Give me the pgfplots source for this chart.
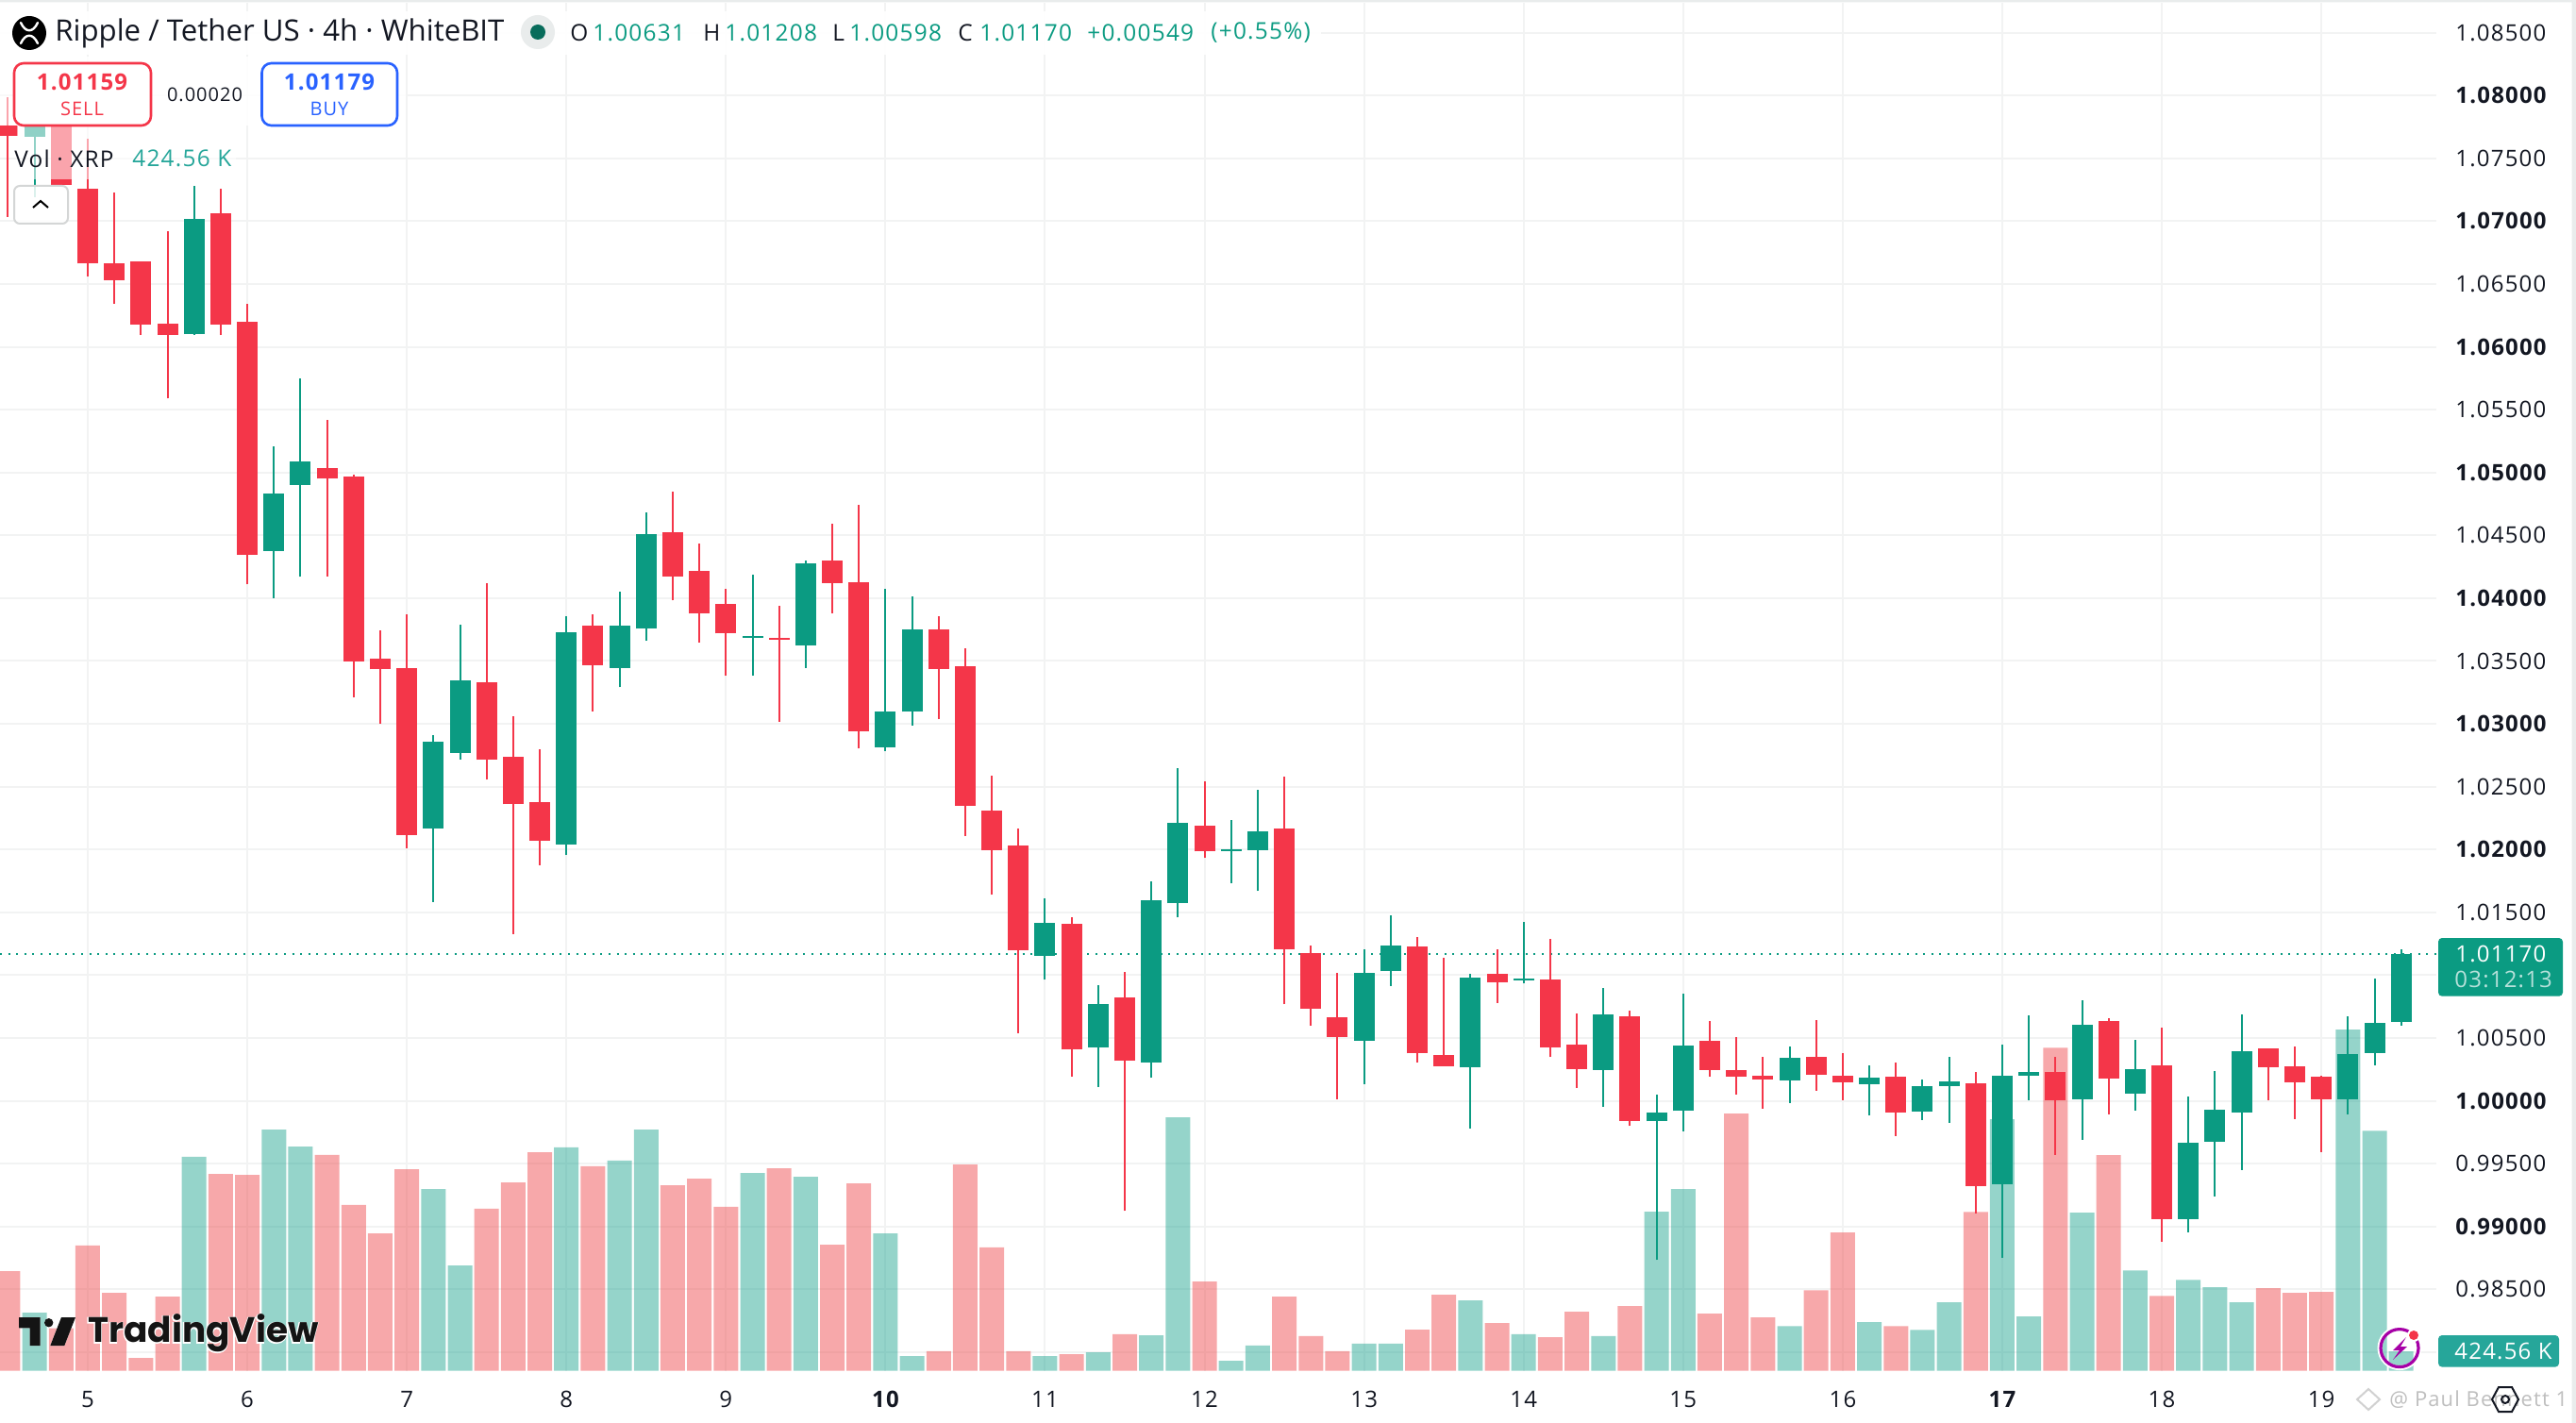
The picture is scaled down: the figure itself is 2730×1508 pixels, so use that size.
\documentclass[border=0pt]{standalone}
\usepackage{fontspec}
\usepackage{pgfplots}
\usepackage{pgfplotstable}
\pgfplotsset{compat=1.18}
\setmainfont{Open Sans}
\newfontfamily\tv[LetterSpace=5]{Open Sans}
\newfontfamily\logofont{Poppins}
\newfontfamily\logohalo[BoldFeatures={FakeBold=5}]{Poppins}
\definecolor{cred}{HTML}{F43649}
\definecolor{cgreen}{HTML}{0B9B82}
\definecolor{barred}{HTML}{EE3235}
\definecolor{bargreen}{HTML}{039983}
\definecolor{volgreen}{HTML}{26A69A}
\definecolor{gridc}{HTML}{F2F3F3}
\definecolor{cblue}{HTML}{2962FF}
\definecolor{labelc}{HTML}{131722}
\definecolor{edgec}{HTML}{E9ECEC}

% i open high low close
\pgfplotstableread{
i o h l c
-3 1.07762 1.07987 1.07034 1.07679
-1 1.07850 1.07900 1.07292 1.07292
0 1.07257 1.07658 1.06559 1.06662
1 1.06667 1.07227 1.06343 1.06533
2 1.06680 1.06680 1.06093 1.06179
3 1.06184 1.06921 1.05589 1.06093
5 1.07063 1.07257 1.06093 1.06179
6 1.06201 1.06343 1.04110 1.04343
9 1.05037 1.05416 1.04175 1.04951
10 1.04968 1.04985 1.03209 1.03498
11 1.03520 1.03744 1.03002 1.03433
12 1.03442 1.03873 1.02006 1.02118
15 1.03330 1.04119 1.02554 1.02713
16 1.02735 1.03058 1.01329 1.02360
17 1.02377 1.02795 1.01877 1.02071
19 1.03783 1.03873 1.03101 1.03468
22 1.04524 1.04847 1.03981 1.04175
23 1.04218 1.04434 1.03649 1.03877
24 1.03955 1.04076 1.03382 1.03718
26 1.03683 1.03938 1.03019 1.03670
28 1.04300 1.04593 1.03882 1.04123
29 1.04127 1.04743 1.02803 1.02937
32 1.03751 1.03855 1.03036 1.03433
33 1.03458 1.03601 1.02105 1.02350
34 1.02312 1.02588 1.01639 1.01993
35 1.02031 1.02165 1.00540 1.01195
37 1.01406 1.01462 1.00195 1.00406
39 1.00824 1.01027 0.99122 1.00316
42 1.02191 1.02544 1.01932 1.01984
45 1.02165 1.02579 1.00768 1.01204
46 1.01173 1.01234 1.00596 1.00729
47 1.00665 1.01018 1.00014 1.00510
50 1.01230 1.01303 1.00303 1.00376
51 1.00363 1.01139 1.00277 1.00277
53 1.01010 1.01204 1.00781 1.00941
55 1.00967 1.01290 1.00346 1.00428
56 1.00445 1.00695 1.00100 1.00255
58 1.00673 1.00717 0.99798 0.99841
61 1.00477 1.00634 1.00193 1.00247
62 1.00244 1.00506 1.00052 1.00193
63 1.00199 1.00348 0.99939 1.00172
65 1.00348 1.00642 1.00081 1.00209
66 1.00199 1.00380 1.00006 1.00148
68 1.00191 1.00303 0.99720 0.99910
71 1.00140 1.00228 0.99105 0.99322
74 1.00228 1.00348 0.99570 1.00006
76 1.00634 1.00658 0.99894 1.00180
78 1.00281 1.00581 0.98881 0.99060
82 1.00418 1.00418 1.00006 1.00268
83 1.00273 1.00431 0.99856 1.00148
84 1.00191 1.00199 0.99592 1.00014
}\redcandles
\pgfplotstableread{
i o h l c
-2 1.07672 1.07762 1.07191 1.07762
4 1.06102 1.07283 1.06093 1.07020
7 1.04377 1.05209 1.04002 1.04834
8 1.04903 1.05748 1.04170 1.05089
13 1.02170 1.02912 1.01584 1.02856
14 1.02769 1.03787 1.02718 1.03347
18 1.02041 1.03856 1.01955 1.03727
20 1.03446 1.04050 1.03291 1.03783
21 1.03757 1.04684 1.03658 1.04511
25 1.03683 1.04188 1.03382 1.03696
27 1.03627 1.04300 1.03442 1.04278
30 1.02816 1.04075 1.02786 1.03096
31 1.03096 1.04014 1.02984 1.03751
36 1.01156 1.01613 1.00962 1.01415
38 1.00428 1.00919 1.00113 1.00768
40 1.00307 1.01747 1.00182 1.01596
41 1.01570 1.02648 1.01458 1.02212
43 1.01988 1.02234 1.01734 1.02001
44 1.01997 1.02475 1.01669 1.02143
48 1.00479 1.01204 1.00135 1.01018
49 1.01031 1.01475 1.00915 1.01234
52 1.00264 1.01010 0.99781 1.00979
54 1.00958 1.01424 1.00932 1.00971
57 1.00247 1.00898 0.99953 1.00686
59 0.99837 1.00048 0.98733 0.99906
60 0.99919 1.00855 0.99759 1.00441
64 1.00164 1.00431 0.99985 1.00340
67 1.00134 1.00281 0.99886 1.00183
69 0.99915 1.00169 0.99848 1.00116
70 1.00118 1.00348 0.99827 1.00153
72 0.99338 1.00447 0.98752 1.00199
73 1.00201 1.00680 1.00006 1.00228
75 1.00014 1.00800 0.99691 1.00605
77 1.00060 1.00485 0.99923 1.00252
79 0.99060 1.00033 0.98956 0.99667
80 0.99675 1.00236 0.99239 0.99929
81 0.99910 1.00688 0.99450 1.00394
85 1.00014 1.00672 0.99894 1.00372
86 1.00383 1.00974 1.00284 1.00618
87 1.00631 1.01208 1.00598 1.01170
}\greencandles
% i volume (thousands of XRP)
\pgfplotstableread{
i v
-3 2168
-1 923
0 2722
1 1696
2 281
3 1614
5 4280
6 4260
9 4691
10 3604
11 2988
12 4383
15 3522
16 4096
17 4752
19 4445
22 4034
23 4178
24 3563
26 4403
28 2742
29 4075
32 425
33 4485
34 2681
35 425
37 363
39 794
42 1942
45 1614
46 753
47 425
50 896
51 1655
53 1040
55 732
56 1286
58 1409
61 1245
62 5593
63 1161
65 1752
66 3007
68 970
71 3452
74 7020
76 4687
78 1628
82 1795
83 1694
84 1715
}\redvol
\pgfplotstableread{
i v
-2 1265
4 4650
7 5244
8 4875
13 3952
14 2291
18 4855
20 4568
21 5244
25 4301
27 4219
30 2988
31 322
36 322
38 404
40 773
41 5511
43 219
44 548
48 589
49 589
52 1532
54 794
57 753
59 3460
60 3952
64 970
67 1058
69 890
70 1489
72 5466
73 1183
75 3437
77 2182
79 1977
80 1817
81 1489
85 7416
86 5218
87 424.56
}\greenvol

\pgfplotsset{
  tvbase/.style={
    at={(axisorigin)}, anchor=south west, scale only axis,
    width=1291pt, height=724.85pt,
    xmin=-3.3, xmax=88.325,
  },
  priceaxis/.style={tvbase, ymin=0.97851, ymax=1.08738},
  candle/.style 2 args={draw=none, mark=none, forget plot,
    error bars/.cd, y dir=plus, y explicit, error mark=none,
    error bar style={draw=#1, line width=#2, line cap=butt, solid}},
}
\newcommand\fs[1]{\fontsize{#1}{#1}\selectfont}
\newcommand\rl[1]{{\tv\fs{12}#1}}
\newcommand\bl[1]{{\tv\bfseries\fs{12}#1}}
\begin{document}
\begin{tikzpicture}[x=0.5pt,y=-0.5pt]
\useasboundingbox (0,0) rectangle (2730,1508);
\fill[white] (0,0) rectangle (2730,1508);
\fill[edgec] (0,0) rectangle (2730,2.5) (2725.5,0) rectangle (2730,1508);
\coordinate (axisorigin) at (0,1452.7);

% grid and the tick labels
\begin{axis}[priceaxis,
  axis line style={draw=none},
  grid=major, grid style={gridc, line width=1pt},
  major tick length=0pt,
  xtick={0,6,...,84},
  xticklabels={\rl{5},\rl{6},\rl{7},\rl{8},\rl{9},\bl{10},\rl{11},\rl{12},\rl{13},\rl{14},\rl{15},\rl{16},\bl{17},\rl{18},\rl{19}},
  xticklabel style={anchor=center, yshift=-15.15pt, text=labelc},
  ytick={0.98,0.985,0.99,0.995,1,1.005,1.01,1.015,1.02,1.025,1.03,1.035,1.04,1.045,1.05,1.055,1.06,1.065,1.07,1.075,1.08,1.085},
  yticklabels={{},\rl{0.98500},\bl{0.99000},\rl{0.99500},\bl{1.00000},\rl{1.00500},{},\rl{1.01500},\bl{1.02000},\rl{1.02500},\bl{1.03000},\rl{1.03500},\bl{1.04000},\rl{1.04500},\bl{1.05000},\rl{1.05500},\bl{1.06000},\rl{1.06500},\bl{1.07000},\rl{1.07500},\bl{1.08000},\rl{1.08500}},
  yticklabel pos=right,
  yticklabel style={anchor=west, xshift=10pt, inner sep=0pt, text=labelc},
]
\addplot[draw=none, forget plot] coordinates {(0,1)};
\end{axis}

% volume
\begin{axis}[tvbase, ymin=0, ymax=29733, axis lines=none]
\addplot[ybar, bar width=13pt, bar shift=0pt, fill=barred, fill opacity=.42, draw=none] table[x=i,y=v] {\redvol};
\addplot[ybar, bar width=13pt, bar shift=0pt, fill=bargreen, fill opacity=.42, draw=none] table[x=i,y=v] {\greenvol};
\end{axis}

% last price line and candles
\begin{axis}[priceaxis, axis lines=none]
\addplot[cgreen, line width=1pt, line cap=butt, dash pattern=on 1pt off 3.3pt] coordinates {(-3.3,1.0117) (88.325,1.0117)};
\addplot[candle={cred}{1pt}] table[x=i,y=l,y error plus expr=\thisrow{h}-\thisrow{l}] {\redcandles};
\addplot[candle={cgreen}{1pt}] table[x=i,y=l,y error plus expr=\thisrow{h}-\thisrow{l}] {\greencandles};
\addplot[candle={cred}{11pt}] table[x=i,y=c,y error plus expr=\thisrow{o}-\thisrow{c}] {\redcandles};
\addplot[candle={cgreen}{11pt}] table[x=i,y=o,y error plus expr=\thisrow{c}-\thisrow{o}] {\greencandles};
\end{axis}

% faded strips of the legend
\fill[white, opacity=.93] (0,12) rectangle (1400,58);
\fill[white, opacity=.9] (15,60) rectangle (430,133);
\fill[white, opacity=.55] (0,100) rectangle (17,133);
\fill[white, opacity=.55] (18,133) rectangle (250,190);

% header
\fill[black] (31,35) circle (18);
\begin{scope}[white, line width=1.2pt, line cap=round]
\draw (22,24) .. controls (27,35) and (35,35) .. (40,24);
\draw (22,46) .. controls (27,35) and (35,35) .. (40,46);
\end{scope}
\node[anchor=west, inner sep=0pt, text=labelc] at (58,35) {\fs{15.6}Ripple / Tether US · 4h · WhiteBIT};
\fill[edgec] (570,34) circle (18);
\fill[cgreen!70!black] (570,34) circle (8);
\newcommand\ohlc[3]{\node[anchor=west, inner sep=0pt, text=#3] at (#1,35) {\tv\fs{12.2}#2};}
\ohlc{604}{O}{labelc}\ohlc{628}{1.00631}{cgreen}
\ohlc{745}{H}{labelc}\ohlc{768}{1.01208}{cgreen}
\ohlc{882}{L}{labelc}\ohlc{900}{1.00598}{cgreen}
\ohlc{1015}{C}{labelc}\ohlc{1038}{1.01170}{cgreen}
\ohlc{1152}{+0.00549}{cgreen}\ohlc{1283}{(+0.55\%)}{cgreen}

% sell / buy
\draw[cred, line width=1.3pt, fill=white, rounded corners=5pt] (15,67) rectangle (160,133);
\node[text=cred, inner sep=0pt] at (87,87) {\tv\bfseries\fs{12}1.01159};
\node[text=cred, inner sep=0pt] at (87,115) {\tv\fs{10}SELL};
\node[text=labelc, inner sep=0pt] at (217,100) {\tv\fs{10}0.00020};
\draw[cblue, line width=1.3pt, fill=white, rounded corners=5pt] (277.5,67) rectangle (421,133);
\node[text=cblue, inner sep=0pt] at (349,87) {\tv\bfseries\fs{12}1.01179};
\node[text=cblue, inner sep=0pt] at (349,115) {\tv\fs{10}BUY};
\node[anchor=west, inner sep=0pt, text=labelc] at (15,168) {\tv\fs{12.2}Vol · XRP};
\node[anchor=west, inner sep=0pt, text=volgreen] at (140,168) {\tv\fs{12.2}424.56 K};
\draw[edgec!80!gray, line width=1pt, fill=white, fill opacity=.85, rounded corners=3pt] (15,197) rectangle (72,237);
\draw[black, line width=1pt] (35,220) -- (43,213) -- (51,220);

% right-hand labels
\fill[cgreen, rounded corners=2pt] (2584,994) rectangle (2716,1055.7);
\node[anchor=west, inner sep=0pt, text=white] at (2602,1010.5) {\tv\fs{12}1.01170};
\node[anchor=west, inner sep=0pt, text=white!70!cgreen] at (2601,1038) {\tv\fs{12}03:12:13};
\fill[volgreen, rounded corners=2pt] (2584,1415) rectangle (2712,1448.6);
\node[anchor=west, inner sep=0pt, text=white] at (2601,1432) {\tv\fs{12}424.56 K};

% TradingView mark
\newcommand\tvmark[1]{
  \begin{scope}[#1]
  \fill (20,1396) -- (42.7,1396) -- (42.7,1426) -- (31.7,1426) -- (31.7,1407.3) -- (20,1407.3) -- cycle;
  \fill (51.7,1401.7) circle (4.7);
  \fill (65,1396) -- (80,1396) -- (68.3,1426) -- (53.3,1426) -- cycle;
  \end{scope}}
\tvmark{white, draw=white, line width=2.5pt, line join=round}
\tvmark{fill=black!92}
\node[anchor=west, inner sep=0pt, text=white] at (92,1413) {\logohalo\bfseries\fs{18.7}TradingView};
\node[anchor=west, inner sep=0pt, text=black!92] at (93,1413) {\logofont\bfseries\fs{18.7}TradingView};

% lightning badge
\draw[white, line width=2.5pt] (2543,1428.6) circle (21);
\draw[violet!70!magenta, line width=1.6pt] (2543,1428.6) circle (20);
\fill[violet!70!magenta] (2550,1417) -- (2536,1431) -- (2543,1431) -- (2536,1441) -- (2551,1427) -- (2544,1427) -- cycle;
\fill[white] (2558,1415) circle (7);
\fill[cred] (2558,1415) circle (5);

% attribution
\node[anchor=west, inner sep=0pt, text=black!25] at (2532,1483) {\tv\fs{11}@ Paul Bennett 1};
\draw[black!18, line width=1pt] (2510,1472) -- (2522,1483) -- (2510,1494) -- (2498,1483) -- cycle;
\draw[labelc, line width=1pt] (2641,1483) -- (2648,1470) -- (2662,1470) -- (2669,1483) -- (2662,1496) -- (2648,1496) -- cycle;
\draw[labelc, line width=1pt] (2655,1483) circle (4);
\end{tikzpicture}
\end{document}
